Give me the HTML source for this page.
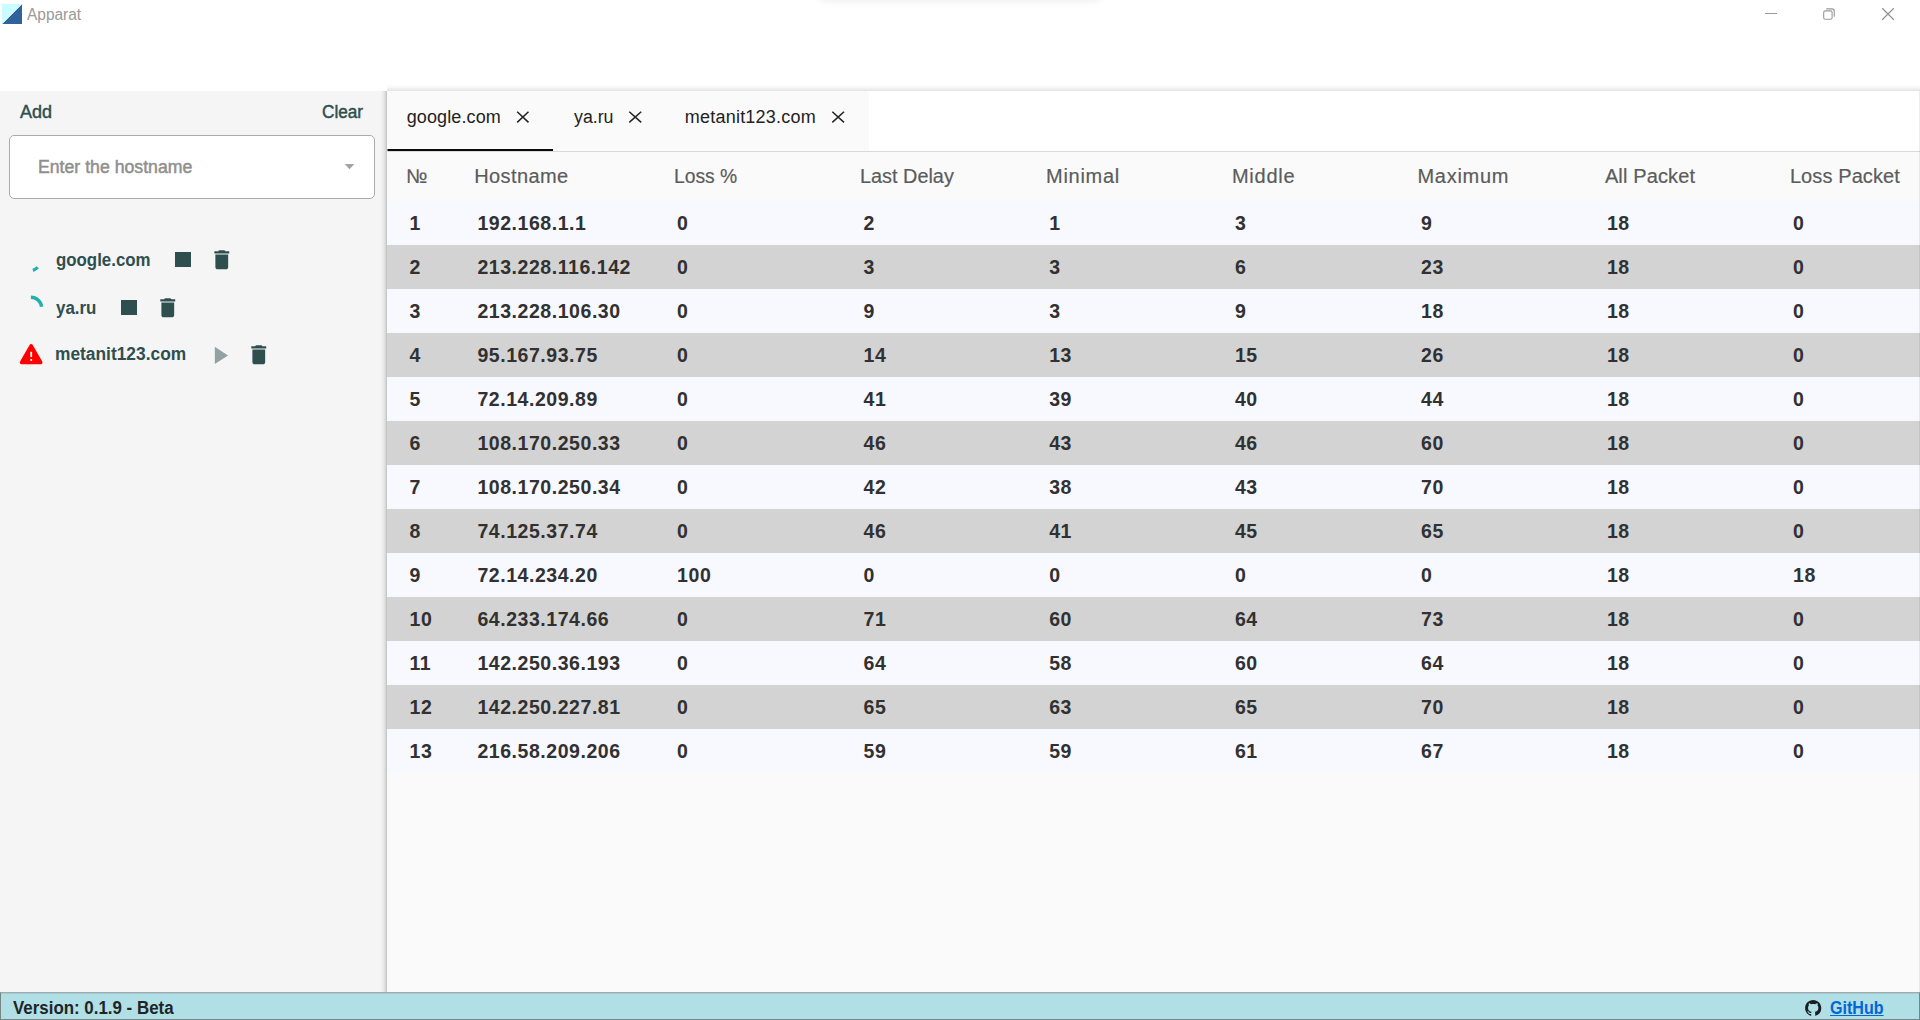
<!DOCTYPE html>
<html><head><meta charset="utf-8"><title>Apparat</title>
<style>
*{box-sizing:border-box;margin:0;padding:0}
html,body{width:1920px;height:1020px;overflow:hidden;background:#fff;font-family:"Liberation Sans",Arial,sans-serif}
.t{position:absolute;white-space:nowrap;line-height:1;transform-origin:0 0}
.ic{position:absolute;overflow:visible}
.bx{position:absolute}
.row{position:absolute;left:387px;width:1533px;height:44px}
.row span{position:absolute;top:12.50px;font-size:19.5px;font-weight:700;color:#313131;line-height:1;letter-spacing:0.55px;white-space:nowrap}
.odd{background:#f8f8ff}
.even{background:#d3d3d3}
</style></head><body>
<!-- title bar -->
<svg class="ic" style="left:2px;top:4px" width="20" height="20" viewBox="0 0 20 20"><polygon points="0,0 20,0 0,20" fill="#c9fdff"/><polygon points="20,0 20,20 0,20" fill="#2f6399"/><line x1="0.3" y1="19.7" x2="19.7" y2="0.3" stroke="#fff" stroke-width="0.7"/></svg>
<div id="apptitle" class="t" style="left:26.50px;top:7.08px;font-size:16px;font-weight:400;color:#999;letter-spacing:0.000px;transform:scaleX(0.9658);">Apparat</div>
<svg class="ic" style="left:1760px;top:0" width="24" height="28"><line x1="5" y1="13.5" x2="17" y2="13.5" stroke="#999" stroke-width="1"/></svg>
<svg class="ic" style="left:1818px;top:0" width="24" height="28"><rect x="5.7" y="10.9" width="8.4" height="8.4" rx="1.5" fill="none" stroke="#999" stroke-width="1.1"/><path d="M8.2 8.9 h5.6 a2.5 2.5 0 0 1 2.5 2.5 v5.3" fill="none" stroke="#999" stroke-width="1.1"/></svg>
<svg class="ic" style="left:1876px;top:0" width="24" height="28"><path d="M6.2 8.2 L17.8 19.8 M17.8 8.2 L6.2 19.8" stroke="#929292" stroke-width="1.25"/></svg>

<!-- sidebar -->
<div class="bx" style="left:0;top:91px;width:387px;height:901px;background:#f5f5f5"></div>
<div id="add" class="t" style="left:19.93px;top:102.79px;font-size:18px;font-weight:400;color:#2f4f4f;letter-spacing:0.060px;-webkit-text-stroke:0.45px #2f4f4f">Add</div>
<div id="clear" class="t" style="left:322.49px;top:102.53px;font-size:18px;font-weight:400;color:#2f4f4f;letter-spacing:0.000px;transform:scaleX(0.9537);-webkit-text-stroke:0.45px #2f4f4f">Clear</div>
<div class="bx" style="left:9px;top:135px;width:366px;height:64px;border:1px solid #a9abaf;border-radius:5px;background:#fff"></div>
<div id="ph" class="t" style="left:38.13px;top:158.15px;font-size:18px;font-weight:400;color:#8f8f8f;letter-spacing:0.000px;transform:scaleX(0.9820);-webkit-text-stroke:0.5px #8f8f8f">Enter the hostname</div>
<svg class="ic" style="left:0;top:0" width="1" height="1"><polygon points="344.7,164 354.3,164 349.5,169.3" fill="#a2a2a8"/></svg>

<svg class="ic" style="left:0;top:0" width="1" height="1"><path d="M37.7 267.3 A10 10 0 0 1 32.9 270.4" fill="none" stroke="#20b2aa" stroke-width="3.2"/></svg>
<div id="h1" class="t" style="left:55.50px;top:250.99px;font-size:18px;font-weight:700;color:#2f4f4f;letter-spacing:0.000px;transform:scaleX(0.9357);">google.com</div>
<div class="bx" style="left:175.4px;top:252.1px;width:15.4px;height:15px;background:#2f4f4f"></div>
<svg class="ic" style="left:208.7px;top:246.8px" width="25.56" height="25.56" viewBox="0 0 24 24" fill="#2f4f4f"><path d="M6 19c0 1.1.9 2 2 2h8c1.1 0 2-.9 2-2V7H6v12zM19 4h-3.5l-1-1h-5l-1 1H5v2h14V4z"/></svg>

<svg class="ic" style="left:0;top:0" width="1" height="1"><path d="M30.9 297.3 A10.8 10.8 0 0 1 41.6 306.8" fill="none" stroke="#20b2aa" stroke-width="3.5"/></svg>
<div id="h2" class="t" style="left:56.42px;top:298.54px;font-size:18px;font-weight:700;color:#2f4f4f;letter-spacing:0.000px;transform:scaleX(0.9405);">ya.ru</div>
<div class="bx" style="left:121.4px;top:299.6px;width:15.5px;height:15px;background:#2f4f4f"></div>
<svg class="ic" style="left:155.15px;top:295.1px" width="25.56" height="25.56" viewBox="0 0 24 24" fill="#2f4f4f"><path d="M6 19c0 1.1.9 2 2 2h8c1.1 0 2-.9 2-2V7H6v12zM19 4h-3.5l-1-1h-5l-1 1H5v2h14V4z"/></svg>

<svg class="ic" style="left:0;top:0" width="1" height="1"><path d="M31.15 345.9 L40.7 362.5 H21.6 Z" fill="#f00" stroke="#f00" stroke-width="3.6" stroke-linejoin="round"/><rect x="30.3" y="351.8" width="1.8" height="5.3" fill="#fff"/><rect x="30.3" y="359" width="1.8" height="1.9" fill="#fff"/></svg>
<div id="h3" class="t" style="left:55.49px;top:345.00px;font-size:18px;font-weight:700;color:#2f4f4f;letter-spacing:0.000px;transform:scaleX(0.9640);">metanit123.com</div>
<svg class="ic" style="left:0;top:0" width="1" height="1"><polygon points="214.8,346.7 228,355.4 214.8,364" fill="#91a2a2"/></svg>
<svg class="ic" style="left:245.7px;top:341.9px" width="25.56" height="25.56" viewBox="0 0 24 24" fill="#2f4f4f"><path d="M6 19c0 1.1.9 2 2 2h8c1.1 0 2-.9 2-2V7H6v12zM19 4h-3.5l-1-1h-5l-1 1H5v2h14V4z"/></svg>

<!-- main panel -->
<div class="bx" style="left:387px;top:91px;width:1533px;height:901px;background:#fafafa;border-top-left-radius:2px"></div>
<div class="bx" style="left:869px;top:91px;width:1051px;height:60px;background:#fff"></div>
<div class="bx" style="left:387px;top:151px;width:1533px;height:1px;background:#d9d9d9"></div>
<div class="bx" style="left:387px;top:149px;width:166px;height:2px;background:#0a0a0a"></div>
<div class="bx" style="left:380px;top:91px;width:7px;height:901px;background:linear-gradient(90deg,rgba(0,0,0,0),rgba(0,0,0,.035) 40%,rgba(0,0,0,.1) 75%,rgba(0,0,0,.23))"></div>
<div class="bx" style="left:387px;top:84px;width:1533px;height:7px;background:linear-gradient(180deg,rgba(0,0,0,0),rgba(0,0,0,.03) 50%,rgba(0,0,0,.11))"></div>
<div class="bx" style="left:387px;top:91px;width:1px;height:901px;background:rgba(255,255,255,.45)"></div>
<div id="tab1" class="t" style="left:406.68px;top:107.96px;font-size:18px;font-weight:400;color:#222;letter-spacing:0.121px;">google.com</div>
<svg class="ic" style="left:0;top:0" width="1" height="1"><path d="M517.2 111.8 L528.5 122.4 M528.5 111.8 L517.2 122.4" stroke="#222" stroke-width="1.5"/></svg>
<div id="tab2" class="t" style="left:573.80px;top:107.62px;font-size:18px;font-weight:400;color:#222;letter-spacing:0.000px;transform:scaleX(0.9865);">ya.ru</div>
<svg class="ic" style="left:0;top:0" width="1" height="1"><path d="M629.3 111.8 L641.2 122.4 M641.2 111.8 L629.3 122.4" stroke="#222" stroke-width="1.5"/></svg>
<div id="tab3" class="t" style="left:684.86px;top:108.10px;font-size:18px;font-weight:400;color:#222;letter-spacing:0.211px;">metanit123.com</div>
<svg class="ic" style="left:0;top:0" width="1" height="1"><path d="M832.3 111.8 L844 122.4 M844 111.8 L832.3 122.4" stroke="#222" stroke-width="1.5"/></svg>
<div id="th0" class="t" style="left:406.39px;top:166.40px;font-size:20px;font-weight:400;color:#5c5c5c;letter-spacing:0.000px;transform:scaleX(0.9961);-webkit-text-stroke:0.2px #5c5c5c">№</div><div id="th1" class="t" style="left:474.22px;top:166.40px;font-size:20px;font-weight:400;color:#5c5c5c;letter-spacing:0.389px;-webkit-text-stroke:0.2px #5c5c5c">Hostname</div><div id="th2" class="t" style="left:674.34px;top:166.40px;font-size:20px;font-weight:400;color:#5c5c5c;letter-spacing:0.000px;transform:scaleX(0.9645);-webkit-text-stroke:0.2px #5c5c5c">Loss %</div><div id="th3" class="t" style="left:860.20px;top:166.40px;font-size:20px;font-weight:400;color:#5c5c5c;letter-spacing:0.000px;transform:scaleX(0.9929);-webkit-text-stroke:0.2px #5c5c5c">Last Delay</div><div id="th4" class="t" style="left:1046.02px;top:166.40px;font-size:20px;font-weight:400;color:#5c5c5c;letter-spacing:0.720px;-webkit-text-stroke:0.2px #5c5c5c">Minimal</div><div id="th5" class="t" style="left:1231.88px;top:166.40px;font-size:20px;font-weight:400;color:#5c5c5c;letter-spacing:0.770px;-webkit-text-stroke:0.2px #5c5c5c">Middle</div><div id="th6" class="t" style="left:1417.48px;top:166.40px;font-size:20px;font-weight:400;color:#5c5c5c;letter-spacing:0.722px;-webkit-text-stroke:0.2px #5c5c5c">Maximum</div><div id="th7" class="t" style="left:1604.88px;top:166.40px;font-size:20px;font-weight:400;color:#5c5c5c;letter-spacing:0.132px;-webkit-text-stroke:0.2px #5c5c5c">All Packet</div><div id="th8" class="t" style="left:1789.88px;top:166.40px;font-size:20px;font-weight:400;color:#5c5c5c;letter-spacing:0.104px;-webkit-text-stroke:0.2px #5c5c5c">Loss Packet</div>
<div class="row odd" style="top:201px"><span style="left:22.5px">1</span><span style="left:90.39999999999998px">192.168.1.1</span><span style="left:290.1px">0</span><span style="left:476.5px">2</span><span style="left:662.2px">1</span><span style="left:847.9000000000001px">3</span><span style="left:1034.0px">9</span><span style="left:1219.9px">18</span><span style="left:1406.1px">0</span></div>
<div class="row even" style="top:245px"><span style="left:22.5px">2</span><span style="left:90.39999999999998px">213.228.116.142</span><span style="left:290.1px">0</span><span style="left:476.5px">3</span><span style="left:662.2px">3</span><span style="left:847.9000000000001px">6</span><span style="left:1034.0px">23</span><span style="left:1219.9px">18</span><span style="left:1406.1px">0</span></div>
<div class="row odd" style="top:289px"><span style="left:22.5px">3</span><span style="left:90.39999999999998px">213.228.106.30</span><span style="left:290.1px">0</span><span style="left:476.5px">9</span><span style="left:662.2px">3</span><span style="left:847.9000000000001px">9</span><span style="left:1034.0px">18</span><span style="left:1219.9px">18</span><span style="left:1406.1px">0</span></div>
<div class="row even" style="top:333px"><span style="left:22.5px">4</span><span style="left:90.39999999999998px">95.167.93.75</span><span style="left:290.1px">0</span><span style="left:476.5px">14</span><span style="left:662.2px">13</span><span style="left:847.9000000000001px">15</span><span style="left:1034.0px">26</span><span style="left:1219.9px">18</span><span style="left:1406.1px">0</span></div>
<div class="row odd" style="top:377px"><span style="left:22.5px">5</span><span style="left:90.39999999999998px">72.14.209.89</span><span style="left:290.1px">0</span><span style="left:476.5px">41</span><span style="left:662.2px">39</span><span style="left:847.9000000000001px">40</span><span style="left:1034.0px">44</span><span style="left:1219.9px">18</span><span style="left:1406.1px">0</span></div>
<div class="row even" style="top:421px"><span style="left:22.5px">6</span><span style="left:90.39999999999998px">108.170.250.33</span><span style="left:290.1px">0</span><span style="left:476.5px">46</span><span style="left:662.2px">43</span><span style="left:847.9000000000001px">46</span><span style="left:1034.0px">60</span><span style="left:1219.9px">18</span><span style="left:1406.1px">0</span></div>
<div class="row odd" style="top:465px"><span style="left:22.5px">7</span><span style="left:90.39999999999998px">108.170.250.34</span><span style="left:290.1px">0</span><span style="left:476.5px">42</span><span style="left:662.2px">38</span><span style="left:847.9000000000001px">43</span><span style="left:1034.0px">70</span><span style="left:1219.9px">18</span><span style="left:1406.1px">0</span></div>
<div class="row even" style="top:509px"><span style="left:22.5px">8</span><span style="left:90.39999999999998px">74.125.37.74</span><span style="left:290.1px">0</span><span style="left:476.5px">46</span><span style="left:662.2px">41</span><span style="left:847.9000000000001px">45</span><span style="left:1034.0px">65</span><span style="left:1219.9px">18</span><span style="left:1406.1px">0</span></div>
<div class="row odd" style="top:553px"><span style="left:22.5px">9</span><span style="left:90.39999999999998px">72.14.234.20</span><span style="left:290.1px">100</span><span style="left:476.5px">0</span><span style="left:662.2px">0</span><span style="left:847.9000000000001px">0</span><span style="left:1034.0px">0</span><span style="left:1219.9px">18</span><span style="left:1406.1px">18</span></div>
<div class="row even" style="top:597px"><span style="left:22.5px">10</span><span style="left:90.39999999999998px">64.233.174.66</span><span style="left:290.1px">0</span><span style="left:476.5px">71</span><span style="left:662.2px">60</span><span style="left:847.9000000000001px">64</span><span style="left:1034.0px">73</span><span style="left:1219.9px">18</span><span style="left:1406.1px">0</span></div>
<div class="row odd" style="top:641px"><span style="left:22.5px">11</span><span style="left:90.39999999999998px">142.250.36.193</span><span style="left:290.1px">0</span><span style="left:476.5px">64</span><span style="left:662.2px">58</span><span style="left:847.9000000000001px">60</span><span style="left:1034.0px">64</span><span style="left:1219.9px">18</span><span style="left:1406.1px">0</span></div>
<div class="row even" style="top:685px"><span style="left:22.5px">12</span><span style="left:90.39999999999998px">142.250.227.81</span><span style="left:290.1px">0</span><span style="left:476.5px">65</span><span style="left:662.2px">63</span><span style="left:847.9000000000001px">65</span><span style="left:1034.0px">70</span><span style="left:1219.9px">18</span><span style="left:1406.1px">0</span></div>
<div class="row odd" style="top:729px"><span style="left:22.5px">13</span><span style="left:90.39999999999998px">216.58.209.206</span><span style="left:290.1px">0</span><span style="left:476.5px">59</span><span style="left:662.2px">59</span><span style="left:847.9000000000001px">61</span><span style="left:1034.0px">67</span><span style="left:1219.9px">18</span><span style="left:1406.1px">0</span></div>

<div class="bx" style="left:1919px;top:91px;width:1px;height:901px;background:rgba(0,0,0,.07)"></div>
<div class="bx" style="left:818px;top:-12px;width:284px;height:12px;border-radius:6px;box-shadow:0 1px 9px rgba(0,0,0,.07)"></div>
<!-- footer -->
<div class="bx" style="left:0;top:992px;width:1920px;height:28px;background:#b0dfe5;border:1px solid #778585;border-top-color:#a4a9aa;box-shadow:inset 0 1px 0 rgba(0,40,50,.1)"></div>
<div id="ver" class="t" style="left:13.20px;top:1000.47px;font-size:17.5px;font-weight:700;color:#1f2526;letter-spacing:0.000px;transform:scaleX(0.9653);">Version: 0.1.9 - Beta</div>
<svg class="ic" style="left:1804.9px;top:999.9px" width="16.4" height="16.2" viewBox="0 0 16 16"><path fill="#1b1f23" d="M8 0C3.58 0 0 3.58 0 8c0 3.54 2.29 6.53 5.47 7.59.4.07.55-.17.55-.38 0-.19-.01-.82-.01-1.49-2.01.37-2.53-.49-2.69-.94-.09-.23-.48-.94-.82-1.13-.28-.15-.68-.52-.01-.53.63-.01 1.08.58 1.23.82.72 1.21 1.87.87 2.33.66.07-.52.28-.87.51-1.07-1.78-.2-3.64-.89-3.64-3.95 0-.87.31-1.59.82-2.15-.08-.2-.36-1.02.08-2.12 0 0 .67-.21 2.2.82.64-.18 1.32-.27 2-.27.68 0 1.36.09 2 .27 1.53-1.04 2.2-.82 2.2-.82.44 1.1.16 1.92.08 2.12.51.56.82 1.27.82 2.15 0 3.07-1.87 3.75-3.65 3.95.29.25.54.73.54 1.48 0 1.07-.01 1.93-.01 2.2 0 .21.15.46.55.38A8.013 8.013 0 0016 8c0-4.42-3.58-8-8-8z"/></svg>
<div id="gh" class="t" style="left:1830.10px;top:1000.03px;font-size:17.5px;font-weight:700;color:#0366d6;letter-spacing:0.000px;transform:scaleX(0.9193);text-decoration:underline;text-underline-offset:1px">GitHub</div>
</body></html>
